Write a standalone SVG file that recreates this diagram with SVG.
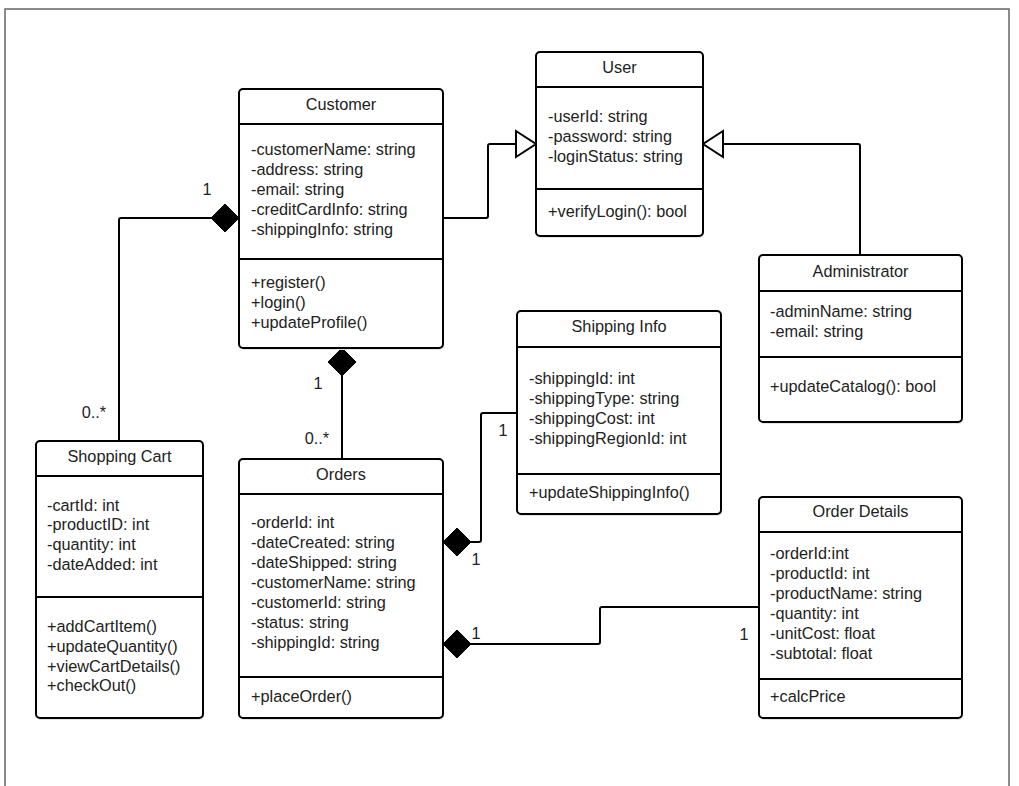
<svg xmlns="http://www.w3.org/2000/svg" width="1019" height="786" viewBox="0 0 1019 786">
<style>
.box{fill:#fff;stroke:#000;stroke-width:2}
.sh{fill:#e6e6e6;stroke:none}
.div{stroke:#000;stroke-width:2}
.t{font-family:"Liberation Sans",Arial,sans-serif;font-size:16.3px;fill:#222}
.c{text-anchor:middle}
.ln{fill:none;stroke:#000;stroke-width:2;stroke-linejoin:round}
.tri{fill:#fff;stroke:#000;stroke-width:2;stroke-linejoin:miter}
.dia{fill:#000;stroke:#000;stroke-width:1}
</style>
<rect width="1019" height="786" fill="#fff"/>
<path d="M5,790 V9 H1009 V790" fill="none" stroke="#666" stroke-width="1.5"/>

<g id="connectors">
  <path class="ln" d="M443,218 H486 Q488,218 488,216 V146 Q488,144 490,144 H516"/>
  <polygon class="tri" points="516,131 536,144 516,157"/>
  <path class="ln" d="M860,255 V146 Q860,144 858,144 H723"/>
  <polygon class="tri" points="723,131 703,144 723,157"/>
  <path class="ln" d="M119,441 V220 Q119,218 121,218 H211"/>
  <polygon class="dia" points="239,218 225,204 211,218 225,232"/>
  <path class="ln" d="M342,459 V376"/>
  <polygon class="dia" points="342,348 356,362 342,376 328,362"/>
  <path class="ln" d="M517,413 H483 Q481,413 481,415 V540 Q481,542 479,542 H471"/>
  <polygon class="dia" points="443,542 457,528 471,542 457,556"/>
  <path class="ln" d="M759,607 H602 Q600,607 600,609 V642 Q600,644 598,644 H471"/>
  <polygon class="dia" points="443,644 457,630 471,644 457,658"/>
  <text class="t c" x="207" y="195">1</text>
  <text class="t c" x="94" y="418">0..*</text>
  <text class="t c" x="318" y="389">1</text>
  <text class="t c" x="317" y="444">0..*</text>
  <text class="t c" x="503" y="436">1</text>
  <text class="t c" x="476" y="565">1</text>
  <text class="t c" x="476" y="639">1</text>
  <text class="t c" x="744" y="640">1</text>
</g>

<g id="customer">
  <rect class="sh" x="240" y="91" width="204" height="259" rx="4"/>
  <rect class="box" x="239" y="89" width="204" height="259" rx="4"/>
  <line class="div" x1="239" y1="124" x2="443" y2="124"/>
  <line class="div" x1="239" y1="259" x2="443" y2="259"/>
  <text class="t c" x="341" y="110">Customer</text>
  <text class="t" x="251" y="155">-customerName: string</text>
  <text class="t" x="251" y="175">-address: string</text>
  <text class="t" x="251" y="195">-email: string</text>
  <text class="t" x="251" y="215">-creditCardInfo: string</text>
  <text class="t" x="251" y="235">-shippingInfo: string</text>
  <text class="t" x="251" y="288">+register()</text>
  <text class="t" x="251" y="308">+login()</text>
  <text class="t" x="251" y="328">+updateProfile()</text>
</g>

<g id="user">
  <rect class="sh" x="537" y="54" width="167" height="184" rx="4"/>
  <rect class="box" x="536" y="52" width="167" height="184" rx="4"/>
  <line class="div" x1="536" y1="87" x2="703" y2="87"/>
  <line class="div" x1="536" y1="189" x2="703" y2="189"/>
  <text class="t c" x="619.5" y="73">User</text>
  <text class="t" x="548" y="122">-userId: string</text>
  <text class="t" x="548" y="142">-password: string</text>
  <text class="t" x="548" y="162">-loginStatus: string</text>
  <text class="t" x="548" y="217">+verifyLogin(): bool</text>
</g>

<g id="administrator">
  <rect class="sh" x="760" y="257" width="203" height="167" rx="4"/>
  <rect class="box" x="759" y="255" width="203" height="167" rx="4"/>
  <line class="div" x1="759" y1="291" x2="962" y2="291"/>
  <line class="div" x1="759" y1="357" x2="962" y2="357"/>
  <text class="t c" x="860.5" y="277">Administrator</text>
  <text class="t" x="770" y="317">-adminName: string</text>
  <text class="t" x="770" y="337">-email: string</text>
  <text class="t" x="770" y="392">+updateCatalog(): bool</text>
</g>

<g id="shipping-info">
  <rect class="sh" x="518" y="313" width="204" height="203" rx="4"/>
  <rect class="box" x="517" y="311" width="204" height="203" rx="4"/>
  <line class="div" x1="517" y1="347" x2="721" y2="347"/>
  <line class="div" x1="517" y1="474" x2="721" y2="474"/>
  <text class="t c" x="619" y="332">Shipping Info</text>
  <text class="t" x="529" y="384">-shippingId: int</text>
  <text class="t" x="529" y="404">-shippingType: string</text>
  <text class="t" x="529" y="424">-shippingCost: int</text>
  <text class="t" x="529" y="444">-shippingRegionId: int</text>
  <text class="t" x="529" y="498">+updateShippingInfo()</text>
</g>

<g id="shopping-cart">
  <rect class="sh" x="37" y="443" width="167" height="277" rx="4"/>
  <rect class="box" x="36" y="441" width="167" height="277" rx="4"/>
  <line class="div" x1="36" y1="476" x2="203" y2="476"/>
  <line class="div" x1="36" y1="597" x2="203" y2="597"/>
  <text class="t c" x="119.5" y="462">Shopping Cart</text>
  <text class="t" x="47" y="511">-cartId: int</text>
  <text class="t" x="47" y="530">-productID: int</text>
  <text class="t" x="47" y="550">-quantity: int</text>
  <text class="t" x="47" y="570">-dateAdded: int</text>
  <text class="t" x="47" y="632">+addCartItem()</text>
  <text class="t" x="47" y="652">+updateQuantity()</text>
  <text class="t" x="47" y="672">+viewCartDetails()</text>
  <text class="t" x="47" y="691">+checkOut()</text>
</g>

<g id="orders">
  <rect class="sh" x="240" y="461" width="204" height="259" rx="4"/>
  <rect class="box" x="239" y="459" width="204" height="259" rx="4"/>
  <line class="div" x1="239" y1="494" x2="443" y2="494"/>
  <line class="div" x1="239" y1="677" x2="443" y2="677"/>
  <text class="t c" x="341" y="480">Orders</text>
  <text class="t" x="251" y="528">-orderId: int</text>
  <text class="t" x="251" y="548">-dateCreated: string</text>
  <text class="t" x="251" y="568">-dateShipped: string</text>
  <text class="t" x="251" y="588">-customerName: string</text>
  <text class="t" x="251" y="608">-customerId: string</text>
  <text class="t" x="251" y="628">-status: string</text>
  <text class="t" x="251" y="648">-shippingId: string</text>
  <text class="t" x="251" y="702">+placeOrder()</text>
</g>

<g id="order-details">
  <rect class="sh" x="760" y="499" width="203" height="221" rx="4"/>
  <rect class="box" x="759" y="497" width="203" height="221" rx="4"/>
  <line class="div" x1="759" y1="532" x2="962" y2="532"/>
  <line class="div" x1="759" y1="679" x2="962" y2="679"/>
  <text class="t c" x="860.5" y="517">Order Details</text>
  <text class="t" x="770" y="559">-orderId:int</text>
  <text class="t" x="770" y="579">-productId: int</text>
  <text class="t" x="770" y="599">-productName: string</text>
  <text class="t" x="770" y="619">-quantity: int</text>
  <text class="t" x="770" y="639">-unitCost: float</text>
  <text class="t" x="770" y="659">-subtotal: float</text>
  <text class="t" x="770" y="702">+calcPrice</text>
</g>
</svg>
